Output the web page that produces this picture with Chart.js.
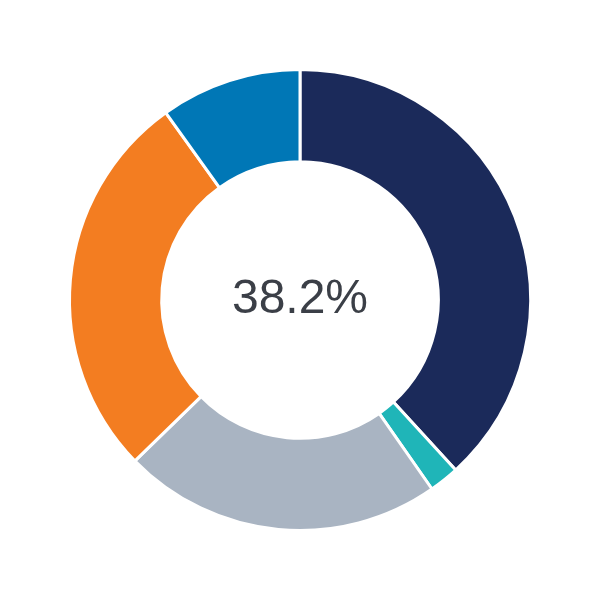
<!DOCTYPE html>
<html><head><meta charset="utf-8">
<script src="https://cdn.jsdelivr.net/npm/chart.js@4"></script>
<style>html,body{margin:0;padding:0;background:#fff}#w{width:600px;height:600px;position:relative}</style>
</head><body><div id="w"><canvas id="c"></canvas></div>
<script>
const labels = ["A","B","C","D","E"];
const values = [38.2, 2.1, 22.4, 27.4, 9.9];
const colors = ["#1b2a5a","#1fb5b8","#a9b4c2","#f37d21","#0077b6"];
const centerText = "38.2%";
const centerPlugin = {id:"ct", afterDraw(chart){
  const {ctx, chartArea:a} = chart;
  ctx.save(); ctx.font = "48px 'Liberation Sans', Arial, sans-serif"; ctx.fillStyle="#3b3f47";
  ctx.textAlign="center"; ctx.textBaseline="middle";
  ctx.fillText(centerText, (a.left+a.right)/2, (a.top+a.bottom)/2); ctx.restore();
}};
new Chart(document.getElementById("c"), {
  type:"doughnut",
  data:{labels, datasets:[{data:values, backgroundColor:colors, borderColor:"#fff", borderWidth:3}]},
  options:{responsive:true, maintainAspectRatio:false, animation:false, cutout:"60%",
    layout:{padding:68},
    plugins:{legend:{display:false}, tooltip:{enabled:false}}},
  plugins:[centerPlugin]
});
</script></body></html>
